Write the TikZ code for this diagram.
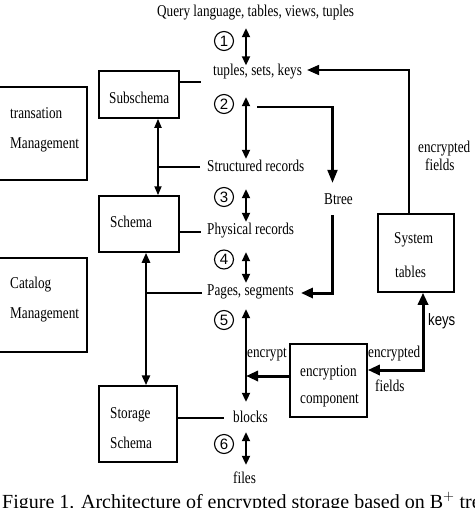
\documentclass[tikz,border=0pt]{standalone}
\usepackage{fontspec}
\setmainfont{Liberation Serif}
\newfontfamily\cf[FakeStretch=0.8]{Liberation Serif}
\newfontfamily\cfsans[FakeStretch=0.8]{Liberation Sans}
\newfontfamily\numfont{Liberation Sans}
\usetikzlibrary{arrows.meta,calc}
\begin{document}
\begin{tikzpicture}[x=1pt,y=-1pt,
  lbl/.style={anchor=base west, inner sep=0pt, text height=11.5pt, text depth=3.5pt, font=\cf\fontsize{16.5}{18}\selectfont},
  box/.style={draw, line width=1.5pt, inner sep=0pt},
  num/.style={draw, circle, line width=1.1pt, minimum size=19pt, inner sep=0pt, font=\numfont\fontsize{15}{15}\selectfont},
  thinln/.style={line width=1.3pt},
  dbl/.style={line width=2pt, {Triangle[length=9pt,width=8pt]}-{Triangle[length=9pt,width=8pt]}},
  bigarr/.style={line width=3pt, -{Triangle[length=12pt,width=10pt]}},
  bigdbl/.style={line width=3pt, {Triangle[length=12pt,width=10pt]}-{Triangle[length=12pt,width=10pt]}}
]
\fill[white] (0,0) rectangle (474,508);
\useasboundingbox (0,0) rectangle (474,508);

% axes
\coordinate (ax) at (246,0);
\coordinate (vx) at (158,0);
\coordinate (ux) at (146,0);

% boxes
\node[box, minimum width=80pt, minimum height=47pt] (sub) at (139,94.5) {};
\node[box, minimum width=80pt, minimum height=56pt] (sch) at (139,224) {};
\node[box, minimum width=78pt, minimum height=76pt] (stor) at (138,424) {};
\node[box, minimum width=92pt, minimum height=93pt] (trans) at (41,133.5) {};
\node[box, minimum width=92pt, minimum height=94pt] (cat) at (41,305) {};
\node[box, minimum width=76pt, minimum height=78pt] (sys) at (416,253) {};
\node[box, minimum width=77pt, minimum height=73pt] (enc) at (328.5,380.5) {};

% box texts
\node[lbl] (subt) at (109,104) {Subschema};
\node[lbl] (scht) at (110,227) {Schema};
\node[lbl] (stor1) at (110,418) {Storage};
\node[lbl] (stor2) at (110,448) {Schema};
\node[lbl] (tr1) at (10,118) {transation};
\node[lbl] (tr2) at (10,148) {Management};
\node[lbl] (ca1) at (10,288) {Catalog};
\node[lbl] (ca2) at (10,318) {Management};
\node[lbl] (sy1) at (394,243) {System};
\node[lbl] (sy2) at (395,277) {tables};
\node[lbl] (en1) at (300,376) {encryption};
\node[lbl] (en2) at (300,403) {component};

% column labels
\node[lbl] (q) at (157,17) {Query language, tables, views, tuples};
\node[lbl] (tsk) at (213,76) {tuples, sets, keys};
\node[lbl] (sr) at (207,171) {Structured records};
\node[lbl] (btree) at (324,204) {Btree};
\node[lbl] (pr) at (207,234) {Physical records};
\node[lbl] (ps) at (207,295) {Pages, segments};
\node[lbl] (blocks) at (233,422) {blocks};
\node[lbl] (files) at (233,483) {files};
\node[lbl] (encrypt) at (247,357) {encrypt};
\node[lbl] (ef1) at (368,357) {encrypted};
\node[lbl] (ef2) at (375,391) {fields};
\node[lbl] (eu1) at (418,152) {encrypted};
\node[lbl] (eu2) at (425,170) {fields};
\node[lbl, font=\cfsans\fontsize{16.5}{18}\selectfont] (keys) at (428,325) {keys};

% circled numbers
\node[num] (c1) at (224,41) {1};
\node[num] (c2) at (224,104) {2};
\node[num] (c3) at (224,197) {3};
\node[num] (c4) at (224,259.5) {4};
\node[num] (c5) at (224,320) {5};
\node[num] (c6) at (224,444) {6};

% main column arrows
\draw[dbl, shorten <=7.5pt, shorten >=-1pt] (q.south -| ax) -- (tsk.north -| ax);
\draw[dbl, shorten <=17.5pt, shorten >=0.5pt] (tsk.south -| ax) -- (sr.north -| ax);
\draw[dbl, shorten <=14.5pt, shorten >=0.5pt] (sr.south -| ax) -- (pr.north -| ax);
\draw[dbl, shorten <=14.5pt, shorten >=0.5pt] (pr.south -| ax) -- (ps.north -| ax);
\draw[dbl, shorten <=10.5pt, shorten >=8.5pt] (ps.south -| ax) -- (blocks.north -| ax);
\draw[dbl, shorten <=6.5pt, shorten >=6.5pt] (blocks.south -| ax) -- (files.north -| ax);

% schema side links
\draw[thinln] ([yshift=12.5pt]sub.east) -- ++(21,0);
\draw[thinln, shorten <=7pt] (sr.west) -- (sr.west -| vx);
\draw[line width=1.8pt, {Triangle[length=9pt,width=7pt]}-{Triangle[length=9pt,width=7pt]}] (sub.south -| vx) -- (sch.north -| vx);
\draw[thinln] ([yshift=-8pt]sch.east) -- ++(21,0);
\draw[thinln, shorten <=5pt] ([yshift=-2pt]ps.west) -- ([yshift=-2pt]ps.west -| ux);
\draw[line width=2.5pt, {Triangle[length=10pt,width=8pt]}-{Triangle[length=10pt,width=8pt]}] (sch.south -| ux) -- (stor.north -| ux);
\draw[thinln, shorten >=9pt] ([yshift=6pt]stor.east) -- (blocks.west);

% Btree arrows
\coordinate (bt0) at (257,107);
\draw[line width=2.2pt, -{Triangle[length=13pt,width=10pt]}, shorten >=9.5pt] (bt0) -| ([xshift=-6pt]btree.north);
\draw[bigarr, shorten >=7pt] ($(btree.south)+(-6,7.5)$) |- ([yshift=-2pt]ps.east);

% system tables arrows
\draw[line width=1.8pt, -{Triangle[length=12pt,width=10pt]}, shorten >=5pt] ([xshift=-7pt]sys.north) |- ([yshift=2pt]tsk.east);
\draw[bigdbl] ([xshift=7pt]sys.south) |- ([yshift=10.5pt]enc.east);
\draw[bigarr] ([yshift=4.5pt]enc.west) -- ([yshift=4.5pt]enc.west -| ax);

% caption
\node[anchor=base west, inner sep=0pt, font=\fontsize{20}{24}\selectfont] (cap) at (2,508.5) {Figure 1. Architecture of encrypted storage based on B$^+$ tree};
\end{tikzpicture}
\end{document}
